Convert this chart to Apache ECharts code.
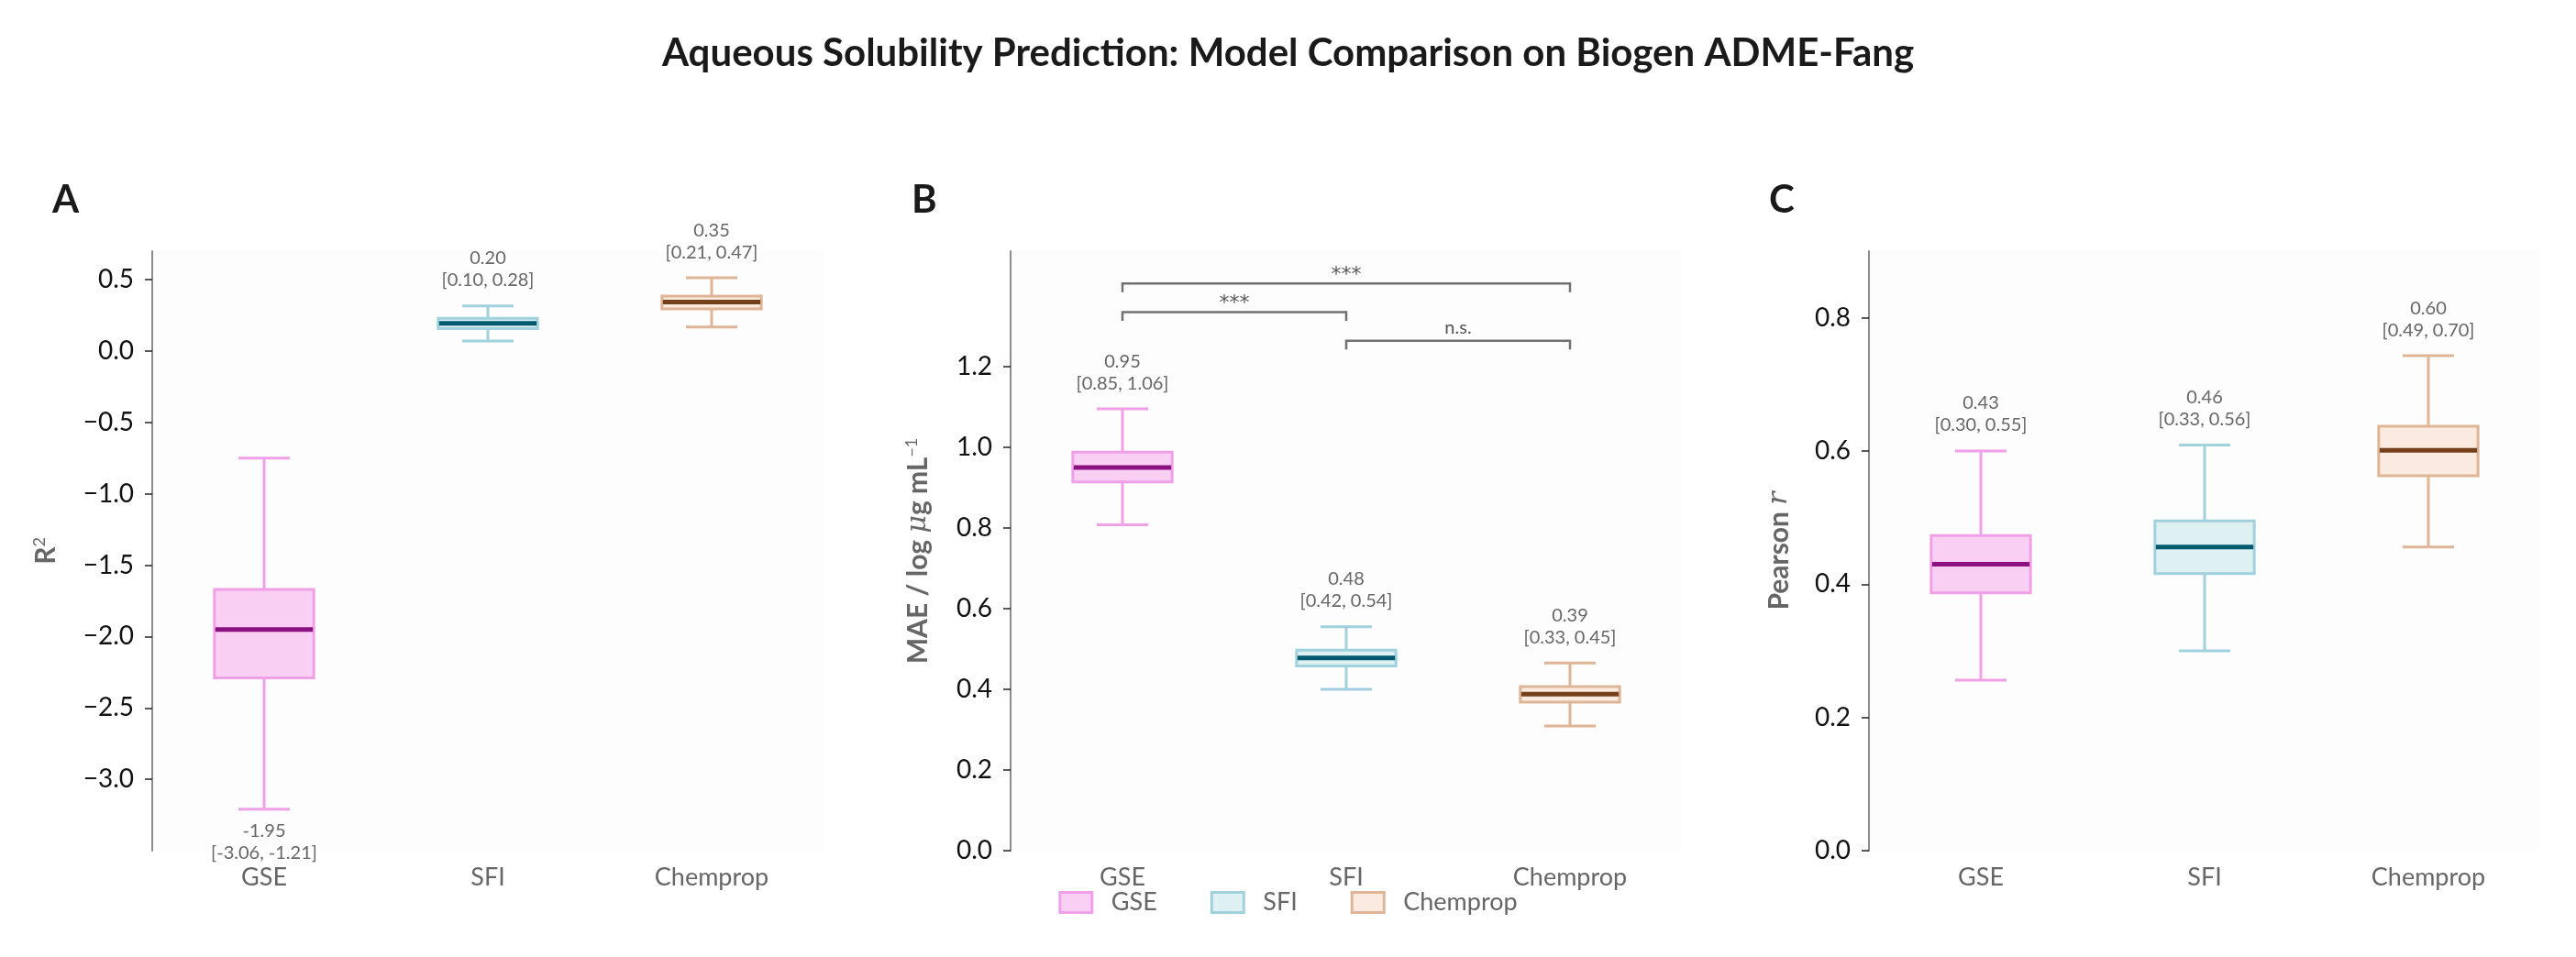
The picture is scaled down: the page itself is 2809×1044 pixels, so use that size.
<!DOCTYPE html>
<html>
<head>
<meta charset="utf-8">
<title>Aqueous Solubility Prediction</title>
<script src="https://cdn.jsdelivr.net/npm/echarts@6/dist/echarts.min.js"></script>
<style>
  html, body { margin: 0; padding: 0; background: #ffffff; }
  #chart { width: 2809px; height: 1044px; }
</style>
</head>
<body>
<div id="chart"></div>
<script>
// 模型与配色
const models = ['GSE', 'SFI', 'Chemprop'];
const edgeColors = ['#F0A0E6', '#A0D1DD', '#DFB597'];
const fillColors = ['#F9D0F3', '#DFF0F3', '#FAEADF'];
const medianColors = ['#8B1181', '#005A6E', '#74411A'];

// 箱线 [下须, Q1, 中位数, Q3, 上须]
const r2Box = [
  [-3.21, -2.29, -1.95, -1.67, -0.75],
  [0.07, 0.158, 0.195, 0.229, 0.316],
  [0.168, 0.296, 0.343, 0.386, 0.513]
];
const r2Median = [-1.95, 0.20, 0.35];
const r2Ci = [[-3.06, -1.21], [0.10, 0.28], [0.21, 0.47]];

const maeBox = [
  [0.808, 0.914, 0.950, 0.988, 1.095],
  [0.400, 0.458, 0.478, 0.497, 0.555],
  [0.309, 0.368, 0.388, 0.407, 0.465]
];
const maeMedian = [0.95, 0.48, 0.39];
const maeCi = [[0.85, 1.06], [0.42, 0.54], [0.33, 0.45]];

const pearsonBox = [
  [0.256, 0.387, 0.430, 0.473, 0.600],
  [0.300, 0.416, 0.456, 0.495, 0.609],
  [0.456, 0.563, 0.601, 0.637, 0.743]
];
const pearsonMedian = [0.43, 0.46, 0.60];
const pearsonCi = [[0.30, 0.55], [0.33, 0.56], [0.49, 0.70]];

// 显著性标注（面板B）: [起, 止, 高度]
const sigPairs = [[0, 1, 1.335], [0, 2, 1.406], [1, 2, 1.264]];
const sigLabels = ['***', '***', 'n.s.'];

// 坐标轴范围与刻度
const r2Range = [-3.5, 0.7];
const r2Ticks = [-3.0, -2.5, -2.0, -1.5, -1.0, -0.5, 0.0, 0.5];
const maeRange = [0, 1.486];
const maeTicks = [0.0, 0.2, 0.4, 0.6, 0.8, 1.0, 1.2];
const pearsonRange = [0, 0.9];
const pearsonTicks = [0.0, 0.2, 0.4, 0.6, 0.8];

const FONT = 'Lato';
const chart = echarts.init(document.getElementById('chart'));

const gridLefts = [166, 1102, 2038];

const fmtTick = v => {
  const s = Math.abs(v).toFixed(1);
  return v < -1e-9 ? '\u2212' + s : s;
};

/**
 * 绘制单个箱线图（含中位数与置信区间标注）
 */
const makeBoxSeries = (panel, m, box, median, ci) => ({
  type: 'custom',
  name: models[m],
  xAxisIndex: panel,
  yAxisIndex: panel,
  data: [[m].concat(box)],
  encode: { x: 0, y: [1, 2, 3, 4, 5] },
  itemStyle: { color: fillColors[m], borderColor: edgeColors[m] },
  renderItem: (params, api) => {
    const x = api.value(0);
    const band = api.size([1, 0])[0];
    const halfBox = band * 0.222;
    const halfCap = band * 0.115;
    const pLo = api.coord([x, api.value(1)]);
    const pQ1 = api.coord([x, api.value(2)]);
    const pMed = api.coord([x, api.value(3)]);
    const pQ3 = api.coord([x, api.value(4)]);
    const pHi = api.coord([x, api.value(5)]);
    const cx = pMed[0];
    const edge = { stroke: edgeColors[m], lineWidth: 3 };
    const below = median < 0;
    const label = median.toFixed(2) + '\n[' + ci[0].toFixed(2) + ', ' + ci[1].toFixed(2) + ']';
    return {
      type: 'group',
      children: [
        { type: 'line', shape: { x1: cx, y1: pLo[1], x2: cx, y2: pQ1[1] }, style: edge },
        { type: 'line', shape: { x1: cx, y1: pQ3[1], x2: cx, y2: pHi[1] }, style: edge },
        { type: 'line', shape: { x1: cx - halfCap, y1: pLo[1], x2: cx + halfCap, y2: pLo[1] }, style: edge },
        { type: 'line', shape: { x1: cx - halfCap, y1: pHi[1], x2: cx + halfCap, y2: pHi[1] }, style: edge },
        {
          type: 'rect',
          shape: { x: cx - halfBox, y: pQ3[1], width: halfBox * 2, height: pQ1[1] - pQ3[1] },
          style: { fill: fillColors[m], stroke: edgeColors[m], lineWidth: 3 }
        },
        {
          type: 'line',
          shape: { x1: cx - halfBox + 1, y1: pMed[1], x2: cx + halfBox - 1, y2: pMed[1] },
          style: { stroke: medianColors[m], lineWidth: 5 }
        },
        {
          type: 'text',
          style: {
            text: label,
            x: cx,
            y: below ? pLo[1] + 12 : pHi[1] - 16,
            align: 'center',
            verticalAlign: below ? 'top' : 'bottom',
            fill: '#666',
            fontFamily: FONT,
            fontSize: 20,
            lineHeight: 24
          }
        }
      ]
    };
  }
});

const sigSeries = {
  type: 'custom',
  xAxisIndex: 1,
  yAxisIndex: 1,
  data: sigPairs,
  encode: { x: [0, 1], y: 2 },
  silent: true,
  renderItem: (params, api) => {
    const a = api.coord([api.value(0), api.value(2)]);
    const b = api.coord([api.value(1), api.value(2)]);
    const drop = 9.5;
    const stars = sigLabels[params.dataIndex] === '***';
    return {
      type: 'group',
      children: [
        {
          type: 'polyline',
          shape: { points: [[a[0], a[1] + drop], [a[0], a[1]], [b[0], b[1]], [b[0], b[1] + drop]] },
          style: { stroke: '#707070', lineWidth: 2.5, fill: null }
        },
        {
          type: 'text',
          style: {
            text: sigLabels[params.dataIndex],
            x: (a[0] + b[0]) / 2,
            y: stars ? a[1] + 2 : a[1] - 4,
            align: 'center',
            verticalAlign: 'bottom',
            fill: '#555',
            fontFamily: stars ? 'DejaVu Sans' : FONT,
            fontSize: stars ? 22 : 20
          }
        }
      ]
    };
  }
};

const makeYAxis = (i, range, ticks, name, nameGap, rich) => ({
  gridIndex: i,
  type: 'value',
  min: range[0],
  max: range[1],
  axisLine: { show: true, lineStyle: { color: '#8c8c8c', width: 2 } },
  axisTick: { show: true, length: 8, lineStyle: { color: '#222', width: 1.5 }, customValues: ticks },
  axisLabel: { customValues: ticks, formatter: fmtTick, color: '#111', fontSize: 28, fontFamily: FONT, margin: 20 },
  splitLine: { show: false },
  name: name,
  nameLocation: 'middle',
  nameGap: nameGap,
  nameTextStyle: {
    color: '#666', fontSize: 30, fontWeight: 'bold', fontFamily: FONT,
    rich: rich
  }
});

const richSup = {
  sup: { fontSize: 18, fontWeight: 'normal', color: '#666', fontFamily: FONT, verticalAlign: 'top', padding: [0, 0, 14, 0] },
  it: { fontSize: 30, fontStyle: 'italic', fontWeight: 'normal', color: '#666', fontFamily: 'DejaVu Serif' }
};

const series = [];
[[r2Box, r2Median, r2Ci], [maeBox, maeMedian, maeCi], [pearsonBox, pearsonMedian, pearsonCi]].forEach((p, panel) => {
  models.forEach((_, m) => series.push(makeBoxSeries(panel, m, p[0][m], p[1][m], p[2][m])));
});
series.push(sigSeries);

const letterStyle = { fontSize: 42, fontWeight: 'bold', color: '#1a1a1a', fontFamily: FONT };

const option = {
  backgroundColor: '#ffffff',
  animation: false,
  textStyle: { fontFamily: FONT },
  title: [
    {
      text: 'Aqueous Solubility Prediction: Model Comparison on Biogen ADME-Fang',
      left: 'center', top: 37, padding: 0,
      textStyle: { fontSize: 42, fontWeight: 'bold', color: '#1a1a1a', fontFamily: FONT }
    },
    { text: 'A', left: 57, top: 197, padding: 0, textStyle: letterStyle },
    { text: 'B', left: 994, top: 197, padding: 0, textStyle: letterStyle },
    { text: 'C', left: 1929, top: 197, padding: 0, textStyle: letterStyle }
  ],
  legend: {
    data: models.map((name, m) => ({
      name: name,
      icon: 'rect',
      itemStyle: { color: fillColors[m], borderColor: edgeColors[m], borderWidth: 3 }
    })),
    left: 'center',
    top: 971,
    padding: 0,
    itemWidth: 35,
    itemHeight: 22,
    itemGap: 58,
    selectedMode: false,
    textStyle: { color: '#666', fontSize: 27, fontFamily: FONT, padding: [0, 0, 0, 16] }
  },
  grid: gridLefts.map(left => ({
    left: left, top: 274, width: 732, height: 654,
    show: true, backgroundColor: '#fdfdfd', borderWidth: 0
  })),
  xAxis: gridLefts.map((_, i) => ({
    gridIndex: i,
    type: 'category',
    data: models,
    axisLine: { show: false },
    axisTick: { show: false },
    axisLabel: { color: '#666', fontSize: 27, fontFamily: FONT, margin: 16 }
  })),
  yAxis: [
    makeYAxis(0, r2Range, r2Ticks, 'R{sup|2}', 100, richSup),
    makeYAxis(1, maeRange, maeTicks, 'MAE / log {it|\u03bc}g mL{sup|\u22121}', 85, richSup),
    makeYAxis(2, pearsonRange, pearsonTicks, 'Pearson {it|r}', 83, richSup)
  ],
  series: series
};

chart.setOption(option);
</script>
</body>
</html>
